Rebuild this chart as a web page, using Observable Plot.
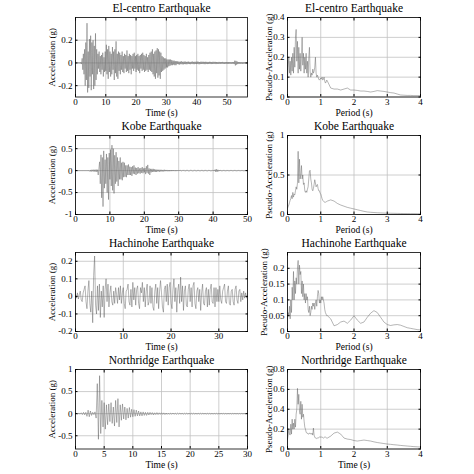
<!DOCTYPE html>
<html><head><meta charset="utf-8">
<script src="https://cdn.jsdelivr.net/npm/d3@7"></script>
<script src="https://cdn.jsdelivr.net/npm/@observablehq/plot@0.6"></script>
<style>
body{margin:0;background:#fff}
#root{position:relative;width:474px;height:474px;overflow:hidden}
#root svg{position:absolute}
</style>
</head><body><div id="root"></div>
<script>
// ---------- time histories (sampling step in seconds) ----------
const accStep = 0.2;

const elcentroAcc = [
0,.002,-.002,.003,-.003,.004,-.004,.005,-.005,.008,
-.01,.04,-.06,.08,-.1,.12,-.2,.18,-.15,.35,
-.26,.1,-.22,.21,-.12,.24,-.24,.18,-.1,.2,
-.23,.15,-.2,.26,-.15,.12,-.1,.08,-.05,.1,
-.08,.06,-.1,.07,-.06,.09,-.12,.05,-.08,.1,
-.07,.16,-.1,.12,-.14,.15,-.08,.1,-.12,.08,
-.1,.14,-.06,.1,-.15,.12,-.09,.19,-.12,.08,
-.14,.1,-.07,.09,-.1,.07,-.06,.1,-.08,.06,
-.09,.08,-.05,.07,-.08,.11,-.07,.06,-.09,.08,
-.06,.07,-.1,.06,-.05,.08,-.07,.09,-.05,.06,
-.08,.07,-.06,.08,-.07,.06,-.09,.07,-.05,.08,
-.07,.09,-.06,.07,-.08,.06,-.07,.08,-.06,.05,
-.08,.07,-.06,.09,-.07,.1,-.08,.12,-.1,.08,
-.12,.1,-.14,.11,-.09,.13,-.13,.12,-.11,.1,
-.14,.09,-.08,.06,-.07,.05,-.06,.04,-.05,.04,
-.04,.03,-.04,.03,-.03,.03,-.025,.03,-.02,.025,
-.02,.02,-.015,.02,-.02,.015,-.02,.015,-.01,.015,
-.012,.01,-.015,.012,-.01,.014,-.012,.01,-.013,.011,
-.01,.013,-.011,.009,-.012,.01,-.009,.012,-.01,.008,
-.011,.01,-.008,.012,-.01,.009,-.011,.01,-.008,.01,
-.01,.012,-.009,.01,-.012,.008,-.01,.011,-.009,.01,
-.008,.01,-.01,.009,-.011,.01,-.008,.009,-.01,.008,
-.009,.01,-.008,.009,-.01,.008,-.009,.01,-.007,.009,
-.008,.009,-.01,.008,-.009,.007,-.008,.009,-.007,.008,
-.009,.008,-.007,.009,-.008,.007,-.009,.008,-.007,.008,
-.008,.007,-.009,.008,-.007,.008,-.006,.007,-.008,.007,
-.007,.008,-.01,.02,-.022,.018,-.015,.012,-.01,.008,
-.008,.007,-.008,.007,-.006,.007,-.008,.006,-.007,.006,
-.006,.005,-.006,.005
];

const kobeAcc = [
0,0,0,0,0,0,0,0,0,0,
0,0,0,0,0,0,0,0,0,0,
.002,-.02,.015,-.02,.02,-.015,.02,-.025,.02,-.02,
.025,-.03,.02,-.1,.05,.2,-.3,.36,-.62,.3,
-.82,.45,-.4,.25,-.3,.38,-.5,.3,-.66,.4,
-.2,.48,-.35,.58,-.45,.5,-.52,.35,-.3,.42,
-.25,.3,-.35,.22,-.2,.3,-.2,.18,-.22,.2,
-.15,.18,-.14,.12,-.15,.12,-.1,.14,-.1,.09,
-.1,.08,-.12,.1,-.07,.12,-.08,.07,-.1,.06,
-.07,.08,-.06,.05,-.07,.06,-.05,.08,-.06,.05,
-.04,.06,-.08,.1,-.05,.13,-.07,.05,-.1,.04,
-.04,.04,-.03,.04,-.03,.03,-.03,.025,-.03,.02,
-.02,.02,-.025,.02,-.02,.018,-.02,.015,-.018,.02,
-.015,.015,-.012,.015,-.014,.012,-.015,.013,-.012,.014,
-.012,.013,-.01,.012,-.011,.01,-.012,.01,-.01,.011,
-.008,.009,-.008,.008,-.007,.008,-.009,.007,-.008,.008,
-.007,.008,-.006,.007,-.008,.006,-.007,.008,-.006,.007,
-.007,.006,-.008,.007,-.006,.007,-.007,.006,-.007,.006,
-.006,.007,-.006,.006,-.007,.006,-.006,.007,-.005,.006,
-.006,.005,-.006,.007,-.006,.005,-.006,.006,-.005,.006,
-.006,.008,-.01,.025,-.03,.03,-.025,.02,-.015,.01,
-.008,.006,-.005,.006,-.005,.005,-.006,.005,-.005,.004,
-.005,.004,-.005,.005,-.004,.005,-.004,.004,-.005,.004,
-.004,.005,-.004,.004,-.004,.003,-.004,.004,-.003,.004,
-.003,.004,-.003,.003,-.004,.003,-.003,.003,-.003,.003,
0
];

const hachinoheAcc = [
.01,-.01,.02,-.015,.01,
.03,-.02,-.03,.02,.04,
.06,-.03,-.07,.03,.09,
-.04,-.09,.03,-.15,.12,
.23,-.05,-.1,.06,-.08,
.07,-.12,.03,-.06,.06,
-.12,.04,.1,-.03,.07,
-.06,.02,.06,-.03,-.05,
.03,-.04,.05,.01,-.04,
.05,-.02,.06,-.04,.02,
.05,-.04,-.07,.03,.04,
.07,-.03,-.05,.04,-.06,
.08,-.02,.05,-.05,.04,
.06,-.04,-.07,.05,.02,
.08,-.03,.05,-.06,.03,
.07,-.05,-.03,.06,-.04,
.05,-.06,-.08,.03,.07,
-.04,.05,-.07,.03,.09,
.02,-.06,-.09,.04,.06,
-.03,.07,-.05,.05,.08,
-.04,-.07,.04,.1,-.03,
.05,-.09,.03,.07,-.04,
.11,-.03,.06,-.08,.03,
.06,-.05,-.06,.04,.07,
-.03,.05,-.06,.06,.08,
-.04,-.07,.03,.05,-.03,
.04,-.08,.02,.07,-.04,
-.05,.03,.05,-.06,.04,
-.05,.04,.07,-.03,-.04,
.05,-.06,.05,-.03,.04,
-.03,.06,-.02,-.04,.03,
.05,.07,-.03,-.04,.03,
.06,-.04,-.05,.03,.04,
-.03,-.05,.04,.06,-.02,
-.04,.03,.04,-.03,.02,
-.02,.03,-.01,.02,-.01,0
];

const northridgeAcc = [
0,.005,-.005,.01,-.01,.02,-.02,.03,-.025,.03,
-.06,.08,-.07,.06,-.04,.03,-.02,.04,-.1,.68,
-.58,.86,-.45,.3,-.3,.25,-.35,.2,-.25,.22,
-.18,.25,-.22,.15,-.28,.3,-.2,.34,-.3,.2,
-.15,.22,-.12,.15,-.14,.12,-.1,.14,-.08,.1,
-.07,.09,-.06,.08,-.05,.06,-.05,.04,-.05,.04,
-.04,.03,-.04,.03,-.03,.03,-.02,.025,-.03,.02,
-.02,.025,-.02,.02,-.015,.02,-.015,.018,-.02,.015,
-.015,.012,-.015,.013,-.012,.014,-.012,.01,-.013,.012,
-.01,.012,-.011,.01,-.012,.01,-.009,.011,-.01,.009,
-.01,.009,-.008,.01,-.009,.008,-.01,.009,-.008,.009,
-.008,.009,-.007,.008,-.009,.008,-.007,.008,-.008,.007,
-.008,.007,-.006,.008,-.007,.006,-.007,.008,-.006,.007,
-.007,.006,-.007,.006,-.005,.006,-.007,.006,-.005,.006,
-.006,.005,-.006,.005,-.005,.006,-.005,.005,-.004,.005,
0
];

// ---------- response spectra: periods 0–1.18 s every 0.02 s, then 1.2–4 s every 0.1 s ----------
const periodStepFine = 0.02, periodFineCount = 60;
const periodStartCoarse = 1.2, periodStepCoarse = 0.1;

const elcentroSa = [
.1,.15,.2,.12,.18,.11,.2,.13,.22,.12,
.25,.15,.3,.34,.18,.28,.12,.25,.14,.22,
.13,.2,.3,.16,.22,.12,.2,.14,.22,.12,
.18,.1,.2,.25,.13,.1,.12,.11,.14,.12,
.13,.15,.2,.12,.1,.11,.1,.09,.085,.09,
.095,.09,.1,.085,.09,.1,.08,.07,.075,.085,
.08,.045,.04,.04,.035,.04,.045,.035,.035,.033,
.03,.03,.028,.025,.028,.032,.03,.028,.025,.022,
.02,.015,.01,.009,.008,.008,.007,.007,.007
];

const kobeSa = [
.08,.1,.12,.15,.18,.2,.24,.2,.28,.22,
.26,.25,.3,.35,.32,.4,.8,.4,.7,.45,
.5,.62,.45,.5,.38,.4,.3,.28,.3,.28,
.32,.35,.45,.55,.56,.45,.4,.32,.3,.33,
.38,.44,.4,.35,.37,.38,.33,.3,.3,.27,
.26,.23,.2,.18,.17,.16,.155,.155,.16,.165,
.17,.185,.17,.14,.12,.105,.09,.08,.07,.06,
.05,.04,.032,.028,.025,.022,.02,.018,.017,.016,
.015,.014,.013,.012,.012,.011,.011,.01,.01
];

const hachinoheSa = [
.04,.06,.05,.08,.04,.1,.06,.14,.1,.19,
.1,.16,.12,.17,.15,.2,.225,.15,.21,.18,
.19,.12,.16,.11,.15,.1,.12,.09,.12,.1,
.11,.07,.06,.08,.05,.06,.08,.07,.09,.08,
.09,.07,.09,.1,.08,.11,.13,.12,.09,.1,
.09,.11,.1,.11,.1,.09,.07,.06,.055,.05,
.05,.04,.018,.022,.03,.033,.026,.036,.05,.036,
.026,.03,.045,.058,.066,.06,.045,.03,.022,.019,
.021,.022,.02,.016,.012,.01,.008,.006,.005
];

const northridgeSa = [
.1,.14,.2,.15,.14,.25,.15,.3,.2,.26,
.2,.3,.22,.35,.4,.61,.45,.55,.38,.35,
.48,.3,.45,.32,.35,.28,.22,.2,.17,.16,
.16,.15,.15,.16,.16,.15,.15,.16,.14,.21,
.14,.12,.11,.11,.105,.11,.11,.115,.12,.12,
.12,.12,.12,.115,.11,.115,.12,.12,.115,.11,
.11,.13,.16,.17,.15,.11,.1,.095,.085,.08,
.085,.09,.085,.08,.072,.065,.06,.055,.05,.047,
.043,.04,.036,.033,.03,.027,.024,.022,.02
];

// ---------- titles, labels, ticks ----------
const quakeNames = ["El-centro Earthquake", "Kobe Earthquake", "Hachinohe Earthquake", "Northridge Earthquake"];
const accSeries = [elcentroAcc, kobeAcc, hachinoheAcc, northridgeAcc];
const saSeries = [elcentroSa, kobeSa, hachinoheSa, northridgeSa];
const accXDomains = [[0, 56.8], [0, 50], [0, 36], [0, 30]];
const accYDomains = [[-0.3, 0.4], [-1, 0.8], [-0.2, 0.25], [-0.8, 1]];
const accXTicks = [[0,10,20,30,40,50], [0,10,20,30,40,50], [0,10,20,30], [0,5,10,15,20,25,30]];
const accYTicks = [[-0.2,0,0.2], [-1,-0.5,0,0.5], [-0.2,-0.1,0,0.1,0.2], [-0.5,0,0.5,1]];
const saYDomains = [[0, 0.4], [0, 1], [0, 0.25], [0, 0.8]];
const saXTicks = [0,1,2,3,4];
const saYTicks = [[0,0.1,0.2,0.3,0.4], [0,0.5,1], [0,0.05,0.1,0.15,0.2], [0,0.2,0.4,0.6,0.8]];
const accXLabel = "Time (s)";
const accYLabel = "Acceleration (g)";
const saXLabels = ["Period (s)", "Period (s)", "Period (s)", "Time (s)"];
const saYLabel = "Pseudo-Acceleration (g)";

// ---------- layout ----------
const FONT = '"Liberation Serif","Times New Roman",serif';
const frameTops = [17, 134.5, 252, 369];
const frameHeights = [79.5, 79, 79, 79.5];
const MT = 16, MB = 24;

const fmt = d => String(d);
const blank = () => "";

function panel({left, top, width, fh, ml, mr, ylOff, title, xlabel, ylabel, xDomain, yDomain, xTicks, yTicks, data}) {
  const svg = Plot.plot({
    width, height: fh + MT + MB,
    marginTop: MT, marginBottom: MB, marginLeft: ml, marginRight: mr,
    style: {fontFamily: FONT, fontSize: "9px", background: "transparent", color: "#000", overflow: "visible"},
    x: {domain: xDomain},
    y: {domain: yDomain},
    marks: [
      Plot.gridX(xTicks, {stroke: "#c2c2c2", strokeOpacity: 1, strokeWidth: 0.8}),
      Plot.gridY(yTicks, {stroke: "#c2c2c2", strokeOpacity: 1, strokeWidth: 0.8}),
      Plot.line(data, {x: "x", y: "y", stroke: "#5c5c5c", strokeWidth: 0.45, clip: true}),
      Plot.frame({stroke: "#000", strokeWidth: 0.8}),
      Plot.axisX(xTicks, {tickSize: -2.5, tickPadding: 4, tickFormat: fmt, label: null, fontSize: 9}),
      Plot.axisX(xTicks, {anchor: "top", tickSize: -2.5, tickFormat: blank, label: null}),
      Plot.axisY(yTicks, {tickSize: -2.5, tickPadding: 5.5, tickFormat: fmt, label: null, fontSize: 9}),
      Plot.axisY(yTicks, {anchor: "right", tickSize: -2.5, tickFormat: blank, label: null}),
      Plot.text([title], {text: d => d, frameAnchor: "top", textAnchor: "middle", lineAnchor: "middle", dy: -9.5, fontSize: 11.5}),
      Plot.text([xlabel], {text: d => d, frameAnchor: "bottom", textAnchor: "middle", lineAnchor: "middle", dy: 15.5, fontSize: 9.5}),
      Plot.text([ylabel], {text: d => d, frameAnchor: "left", textAnchor: "middle", lineAnchor: "middle", dx: -ylOff, rotate: -90, fontSize: 9})
    ]
  });
  svg.style.left = left + "px";
  svg.style.top = (top - MT) + "px";
  document.getElementById("root").appendChild(svg);
}

for (let r = 0; r < 4; r++) {
  const acc = accSeries[r].map((v, i) => ({x: i * accStep, y: v}));
  const sa = saSeries[r].map((v, i) => ({
    x: i < periodFineCount ? i * periodStepFine : periodStartCoarse + (i - periodFineCount) * periodStepCoarse,
    y: v
  }));
  panel({left: 0, top: frameTops[r], width: 250, fh: frameHeights[r], ml: 75, mr: 3, ylOff: 23.5,
    title: quakeNames[r], xlabel: accXLabel, ylabel: accYLabel,
    xDomain: accXDomains[r], yDomain: accYDomains[r], xTicks: accXTicks[r], yTicks: accYTicks[r], data: acc});
  panel({left: 237, top: frameTops[r], width: 237, fh: frameHeights[r], ml: 50, mr: 54, ylOff: r === 2 ? 23.5 : 18.5,
    title: quakeNames[r], xlabel: saXLabels[r], ylabel: saYLabel,
    xDomain: [0, 4], yDomain: saYDomains[r], xTicks: saXTicks, yTicks: saYTicks[r], data: sa});
}
</script>
</body></html>
